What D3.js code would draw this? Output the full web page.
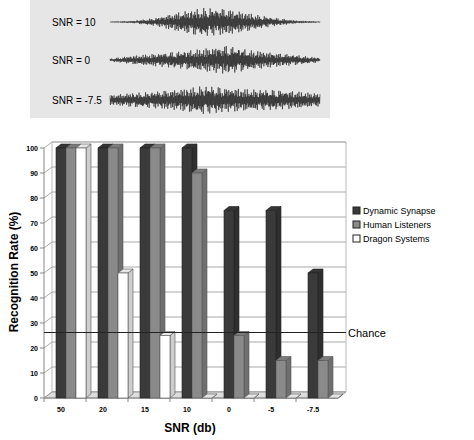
<!DOCTYPE html><html><head><script src="https://d3js.org/d3.v7.min.js"></script>
<style>body{margin:0;background:#fff}</style></head><body><svg id="c" width="474" height="440"></svg>
<script>
const categories=["50","20","15","10","0","-5","-7.5"];
const dynamicSynapse=[100,100,100,100,75,75,50];
const humanListeners=[100,100,100,90,25,15,15];
const dragonSystems=[100,50,25,0,0,0,0];
const yTicks=[0,10,20,30,40,50,60,70,80,90,100];
const snrLabels=["SNR = 10","SNR = 0","SNR = -7.5"];
const envelopes=[[0.03,0.08,0.3,0.7,1,0.9,0.6,0.3,0.1,0.04],[0.1,0.3,0.45,0.6,0.8,1,0.7,0.5,0.35,0.15],[0.35,0.5,0.6,0.75,1,0.85,0.75,0.7,0.6,0.45]];
const chance=25;
const svg=d3.select("#c");
svg.append("rect").attr("x",30).attr("y",0).attr("width",300).attr("height",118).attr("fill","#e6e6e6");
const wx=d3.scaleLinear().domain([0,1]).range([110,320]);
snrLabels.forEach((l,i)=>{
  const cy=[22,60,100][i];
  svg.append("text").attr("x",52).attr("y",cy+4).attr("font-family","Arial").attr("font-size",10).text(l);
  const env=envelopes[i];
  const ex=d3.scaleLinear().domain(d3.range(env.length).map(k=>k/(env.length-1))).range(env);
  const pts=d3.range(0,1.0001,1/520).map((t,k)=>{const m=0.25+0.75*Math.abs(Math.sin(k*2.39+i)*Math.cos(k*0.61)+0.3*Math.sin(k*5.3));const a=ex(t)*Math.min(1,m);return [wx(t),cy+(k%2?1:-1)*a*14];});
  svg.append("path").attr("d",d3.line()(pts)).attr("fill","none").attr("stroke","#222").attr("stroke-width",0.6);
});
const y=d3.scaleLinear().domain([0,100]).range([398,148]);
const x=d3.scaleBand().domain(categories).range([44,338]).paddingInner(0).paddingOuter(0);
const dx=8,dy=-6;
const g=svg.append("g");
g.append("path").attr("d",`M${44+dx},${148+dy}H346V${398+dy}H${44+dx}Z`).attr("fill","#fff").attr("stroke","#bbb");
yTicks.forEach(t=>{g.append("path").attr("d",`M44,${y(t)}L${44+dx},${y(t)+dy}H346`).attr("stroke","#aaa").attr("fill","none");});
g.append("path").attr("d",`M44,398L${44+dx},${398+dy}H346L338,398Z`).attr("fill","#ddd").attr("stroke","#999");
g.append("line").attr("x1",44).attr("x2",44).attr("y1",148).attr("y2",398).attr("stroke","#888");
g.append("line").attr("x1",44).attr("x2",338).attr("y1",398).attr("y2",398).attr("stroke","#888");
yTicks.forEach(t=>{g.append("line").attr("x1",40).attr("x2",44).attr("y1",y(t)).attr("y2",y(t)).attr("stroke","#888");
 g.append("text").attr("x",38).attr("y",y(t)+3).attr("text-anchor","end").attr("font-family","Arial").attr("font-weight","bold").attr("font-size",7).text(t);});
categories.forEach((c,i)=>{g.append("text").attr("x",x(c)+x.bandwidth()/2-4).attr("y",412).attr("text-anchor","middle").attr("font-family","Arial").attr("font-weight","bold").attr("font-size",7).text(c);
 g.append("line").attr("x1",x(c)).attr("x2",x(c)).attr("y1",398).attr("y2",402).attr("stroke","#888");});
const series=[{v:dynamicSynapse,f:"#3a3a3a",s:"#222"},{v:humanListeners,f:"#8a8a8a",s:"#555"},{v:dragonSystems,f:"#fff",s:"#555"}];
const bw=10,sx=5,sy=-4;
categories.forEach((c,i)=>{
  series.forEach((s,j)=>{
    const x0=x(c)+12+j*bw, v=s.v[i], yt=y(v);
    const h=398-yt;
    g.append("path").attr("d",`M${x0+bw},${yt}l${sx},${sy}v${h}l${-sx},${-sy}Z`).attr("fill",d3.color(s.f).darker(0.6)).attr("stroke",s.s).attr("stroke-width",0.6);
    g.append("path").attr("d",`M${x0},${yt}l${sx},${sy}h${bw}l${-sx},${-sy}Z`).attr("fill",d3.color(s.f).darker(0.3)).attr("stroke",s.s).attr("stroke-width",0.6);
    g.append("rect").attr("x",x0).attr("y",yt).attr("width",bw).attr("height",h).attr("fill",s.f).attr("stroke",s.s).attr("stroke-width",0.6);
  });
});
g.append("line").attr("x1",44).attr("x2",346).attr("y1",y(chance)-3).attr("y2",y(chance)-3).attr("stroke","#222").attr("stroke-width",1.2);
g.append("text").attr("x",348).attr("y",y(chance)+1).attr("font-family","Arial").attr("font-size",11).text("Chance");
svg.append("text").attr("transform","translate(18,272) rotate(-90)").attr("text-anchor","middle").attr("font-family","Arial").attr("font-weight","bold").attr("font-size",12).text("Recognition Rate (%)");
svg.append("text").attr("x",190).attr("y",432).attr("text-anchor","middle").attr("font-family","Arial").attr("font-weight","bold").attr("font-size",12).text("SNR (db)");
["Dynamic Synapse","Human Listeners","Dragon Systems"].forEach((n,i)=>{
  svg.append("rect").attr("x",353).attr("y",207+i*14).attr("width",7).attr("height",7).attr("fill",series[i].f).attr("stroke","#222");
  svg.append("text").attr("x",363).attr("y",214+i*14).attr("font-family","Arial").attr("font-size",9).text(n);
});
</script></body></html>
